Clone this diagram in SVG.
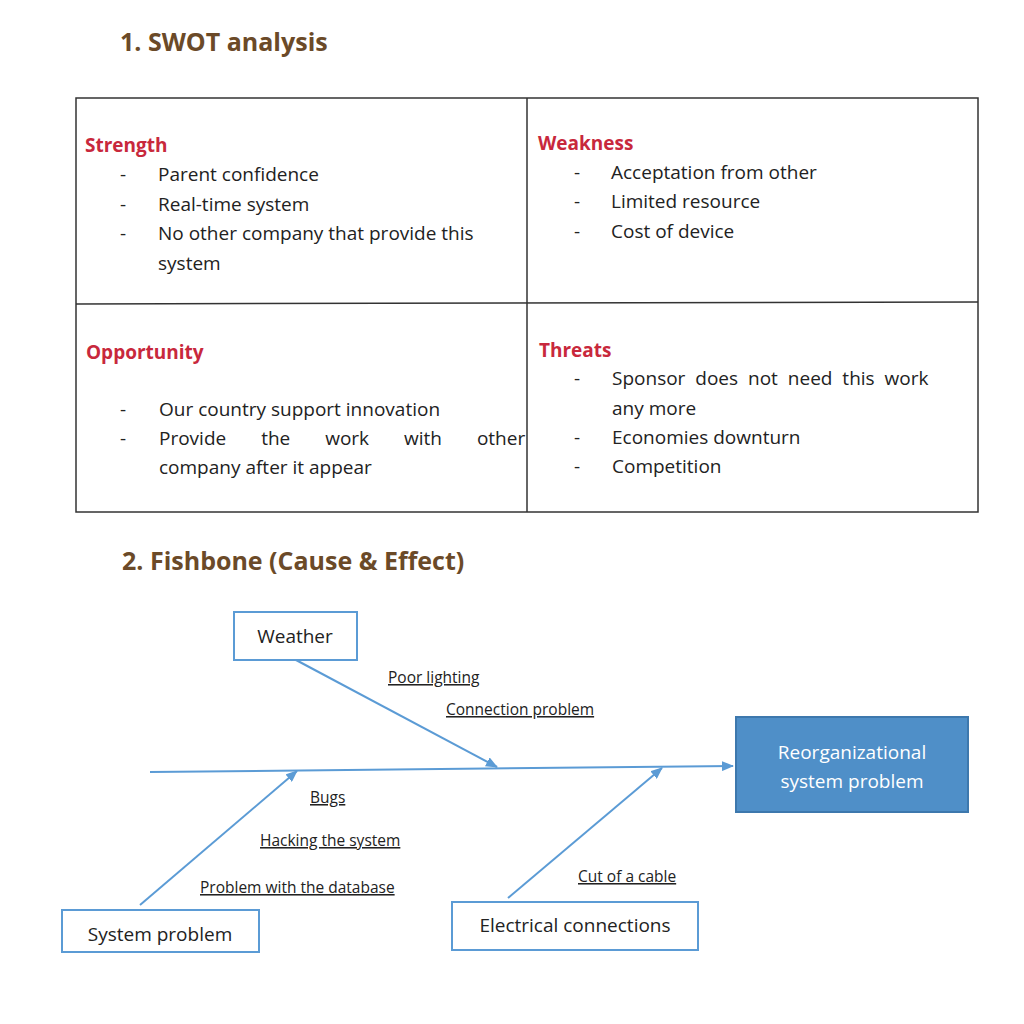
<svg xmlns="http://www.w3.org/2000/svg" width="1024" height="1024" viewBox="0 0 1024 1024">
<style>
text{font-family:"Open Sans","Liberation Sans",sans-serif;fill:#222}
.h{font-size:25px;font-weight:bold;fill:#6b4a28}
.t{font-size:19px;font-weight:bold;fill:#c8283c}
.b{font-size:19px}
.l{font-size:15.5px;text-decoration:underline}
.box{fill:#fff;stroke:#5b9bd5;stroke-width:2}
.ln{stroke:#5b9bd5;stroke-width:2;fill:none;marker-end:url(#a)}
</style>
<defs><marker id="a" markerWidth="12" markerHeight="10" refX="11" refY="5" orient="auto" markerUnits="userSpaceOnUse"><path d="M0,0 L12,5 L0,10 Z" fill="#5b9bd5"/></marker></defs>
<rect width="1024" height="1024" fill="#fff"/>
<text class="h" x="120" y="51">1. SWOT analysis</text>
<g id="swot" fill="none" stroke="#333" stroke-width="1.5">
<rect x="76" y="98" width="902" height="414"/>
<line x1="527" y1="98" x2="527" y2="512"/>
<line x1="76" y1="304" x2="978" y2="302"/>
</g>
<g id="strength"><text class="t" x="85" y="152">Strength</text>
<text class="b" x="120" y="181">-</text><text class="b" x="158" y="181">Parent confidence</text>
<text class="b" x="120" y="211">-</text><text class="b" x="158" y="211">Real-time system</text>
<text class="b" x="120" y="240">-</text><text class="b" x="158" y="240">No other company that provide this</text>
<text class="b" x="158" y="270">system</text></g>
<g id="weakness"><text class="t" x="538" y="150">Weakness</text>
<text class="b" x="574" y="179">-</text><text class="b" x="611" y="179">Acceptation from other</text>
<text class="b" x="574" y="208">-</text><text class="b" x="611" y="208">Limited resource</text>
<text class="b" x="574" y="238">-</text><text class="b" x="611" y="238">Cost of device</text></g>
<g id="opportunity"><text class="t" x="86" y="359">Opportunity</text>
<text class="b" x="120" y="416">-</text><text class="b" x="159" y="416">Our country support innovation</text>
<text class="b" x="120" y="445">-</text><text class="b" x="159" y="445" word-spacing="30">Provide the work with other</text>
<text class="b" x="159" y="474">company after it appear</text></g>
<g id="threats"><text class="t" x="539" y="357">Threats</text>
<text class="b" x="574" y="385">-</text><text class="b" x="612" y="385" word-spacing="5">Sponsor does not need this work</text>
<text class="b" x="612" y="415">any more</text>
<text class="b" x="574" y="444">-</text><text class="b" x="612" y="444">Economies downturn</text>
<text class="b" x="574" y="473">-</text><text class="b" x="612" y="473">Competition</text></g>
<text class="h" x="122" y="570">2. Fishbone (Cause &amp; Effect)</text>
<g id="connectors">
<line class="ln" x1="150" y1="772" x2="733" y2="766"/>
<line class="ln" x1="296" y1="660" x2="497" y2="767"/>
<line class="ln" x1="140" y1="905" x2="297" y2="771"/>
<line class="ln" x1="508" y1="898" x2="662" y2="768"/>
</g>
<g id="weather"><rect class="box" x="234" y="612" width="123" height="48"/><text class="b" x="295" y="643" text-anchor="middle">Weather</text></g>
<g id="system"><rect class="box" x="62" y="910" width="197" height="42"/><text class="b" x="160" y="941" text-anchor="middle">System problem</text></g>
<g id="electrical"><rect class="box" x="452" y="902" width="246" height="48"/><text class="b" x="575" y="932" text-anchor="middle">Electrical connections</text></g>
<g id="effect"><rect x="736" y="717" width="232" height="95" fill="#4f8fc8" stroke="#3d78ad" stroke-width="2"/>
<text x="852" y="759" text-anchor="middle" style="font-size:19px;fill:#fff">Reorganizational</text>
<text x="852" y="788" text-anchor="middle" style="font-size:19px;fill:#fff">system problem</text></g>
<g id="labels">
<text class="l" x="388" y="683">Poor lighting</text>
<text class="l" x="446" y="715">Connection problem</text>
<text class="l" x="310" y="803">Bugs</text>
<text class="l" x="260" y="846">Hacking the system</text>
<text class="l" x="200" y="893">Problem with the database</text>
<text class="l" x="578" y="882">Cut of a cable</text>
</g>
</svg>
